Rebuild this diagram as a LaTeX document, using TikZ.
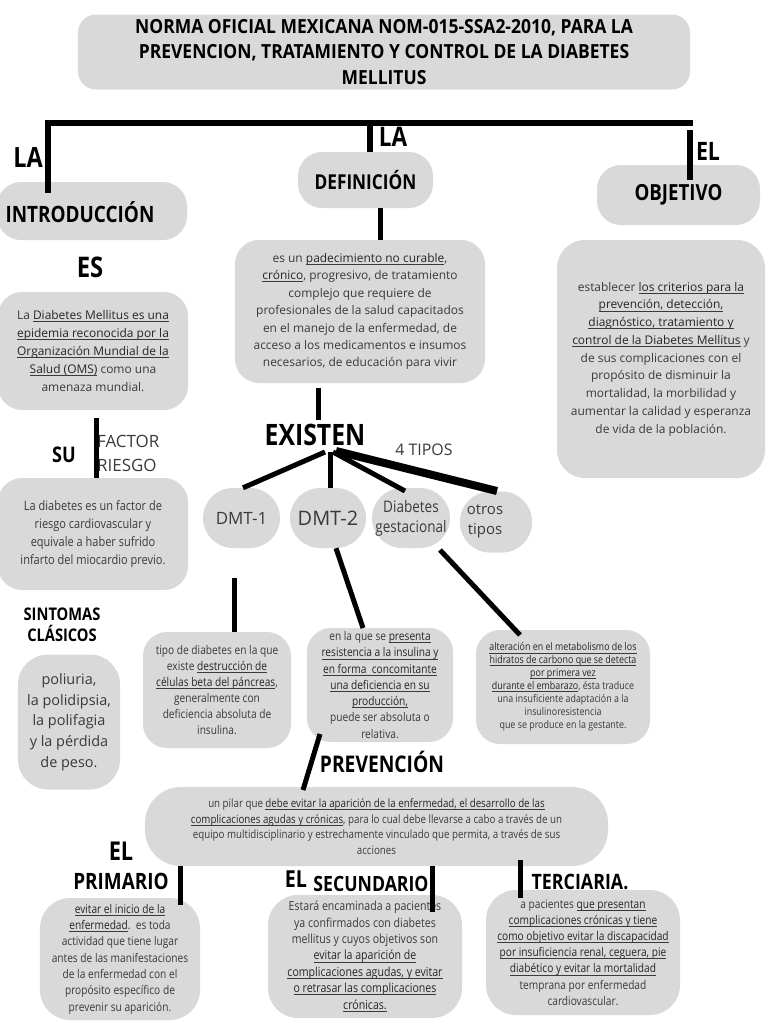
\documentclass[tikz,border=0pt]{standalone}
\usepackage{fontspec}
\usepackage{xcolor}
\usepackage{tikz}
\usetikzlibrary{positioning}
\setmainfont{Open Sans}
\newfontfamily\condfont[FakeStretch=0.85]{Open Sans}
\newfontfamily\headfont[FakeStretch=0.84]{Open Sans}
\newfontfamily\titlefont[FakeStretch=0.90]{Open Sans}
\definecolor{mgray}{HTML}{D9D9D9}
\definecolor{mtext}{HTML}{3A3A3A}
\newcommand{\fsz}[2]{\fontsize{#1}{#2}\selectfont}
\newsavebox{\ulnbox}
\newcommand{\uln}[1]{\sbox{\ulnbox}{\color{black!85}#1}\leavevmode\rlap{\usebox{\ulnbox}}\vrule height-1.6pt depth2.6pt width\wd\ulnbox\relax}

\begin{document}
\begin{tikzpicture}[x=1bp, y=-1bp,
  box/.style={fill=mgray, rounded corners=24bp, align=center, inner sep=0pt, text=mtext},
  head/.style={font=\headfont\bfseries\fsz{#1}{#1}, inner sep=0pt, text=black},
  head/.default=22,
  bar/.style={line width=6bp, black},
  link/.style={line width=5bp, black}]
\useasboundingbox[fill=white] (0,0) rectangle (768,1024);
% title and first level
\node[box, rounded corners=18bp, minimum width=612bp, minimum height=75bp, text=black,
  font=\titlefont\bfseries\fsz{19.5}{25.5}] (title) at (384,52)
  {NORMA OFICIAL MEXICANA NOM-015-SSA2-2010, PARA LA\\PREVENCION, TRATAMIENTO Y CONTROL DE LA DIABETES\\MELLITUS};
\node[box, minimum width=190bp, minimum height=58bp] (intro) at (92,211) {};
\node[head=22.6] (introlbl) at (80,212) {INTRODUCCIÓN};
\node[box, minimum width=135bp, minimum height=56bp, text=black, font=\headfont\bfseries\fsz{20.6}{20.6}] (defin) at (365.5,180) {DEFINICIÓN};
\node[box, minimum width=163bp, minimum height=60bp, text=black, font=\headfont\bfseries\fsz{22.3}{22.3}] (objet) at (678.5,195) {OBJETIVO};
\node[head=28] (laA) at (28,157) {LA};
\node[head=27] (laB) at (393,137) {LA};
\node[head=25.5] (elA) at (708,151) {EL};
\coordinate (barW) at (48,123);
\coordinate (barE) at (690,123);
\coordinate (barM) at (370,123);
\draw[bar] ([xshift=-3bp]barW) -- ([xshift=3bp]barE);
\draw[bar] (barW) -- (barW |- 0,193);
\draw[bar] (barM) -- (barM |- defin.north);
\draw[bar] ([yshift=-7bp]barE) -- (barE |- 0,180);
% texts of the first level
\node[head=28.5] (es) at (90,267) {ES};
\node[box, minimum width=190bp, minimum height=118bp, font=\fsz{12}{18}] (introtxt) at (93,351)
  {La \uln{Diabetes Mellitus es una}\\\uln{epidemia reconocida por la}\\\uln{Organización Mundial de la}\\\uln{Salud (OMS)} como una\\amenaza mundial.};
\node[box, minimum width=250bp, minimum height=143bp, font=\fsz{12}{17.5}] (deftxt) at (360,311.5)
  {es un \uln{padecimiento no curable},\\\uln{crónico}, progresivo, de tratamiento\\complejo que requiere de\\profesionales de la salud capacitados\\en el manejo de la enfermedad, de\\acceso a los medicamentos e insumos\\necesarios, de educación para vivir};
\node[box, rounded corners=28bp, minimum width=208bp, minimum height=238bp, font=\fsz{12}{17.8}] (objtxt) at (661,359)
  {establecer \uln{los criterios para la}\\\uln{prevención, detección,}\\\uln{diagnóstico, tratamiento y}\\\uln{control de la Diabetes Mellitus} y\\de sus complicaciones con el\\propósito de disminuir la\\mortalidad, la morbilidad y\\aumentar la calidad y esperanza\\de vida de la población.};
\draw[link] (defin.south -| 380,0) -- (deftxt.north -| 380,0);
% factor de riesgo
\node[head=21.6] (su) at (64,455) {SU};
\node[anchor=west, inner sep=0pt, font=\fsz{17}{24}, text=mtext, align=left] (factor) at (97,453) {FACTOR\\RIESGO};
\node[box, minimum width=190bp, minimum height=112bp, font=\condfont\fsz{13}{18.3}] (risk) at (93,534)
  {La diabetes es un factor de\\riesgo cardiovascular y\\equivale a haber sufrido\\infarto del miocardio previo.};
\draw[link] (96,418) -- (risk.north -| 96,0);
% tipos
\node[head=29.6] (existen) at (315,435) {EXISTEN};
\node[inner sep=0pt, font=\fsz{16}{16}, text=mtext] (tipos) at (424,450) {4 TIPOS};
\node[box, rounded corners=30bp, minimum width=77bp, minimum height=60bp, font=\fsz{17}{17}] (dmtA) at (241.5,518) {DMT-1};
\node[box, rounded corners=30bp, minimum width=76bp, minimum height=60bp, font=\fsz{20}{20}] (dmtB) at (328,518) {DMT-2};
\node[box, rounded corners=30bp, minimum width=78bp, minimum height=60bp, font=\condfont\fsz{16}{20}] (gest) at (411,518) {Diabetes\\gestacional};
\node[box, rounded corners=30bp, minimum width=72bp, minimum height=61bp] (otros) at (496,522) {};
\node[inner sep=0pt, align=center, font=\fsz{15}{20}, text=mtext] (otroslbl) at (485,521) {otros\\tipos};
\draw[link] (deftxt.south -| 318,0) ++(0,5) -- (318,420);
\draw[link] (325,452) -- (dmtA.north -| 243,0);
\draw[link] (330,452) -- (dmtB.north -| 330,0);
\draw[link] (333,452) -- (405,491);
\draw[line width=8bp] (336,451) -- (497,491);
% descripciones
\node[align=center, inner sep=0pt, font=\headfont\bfseries\fsz{17.5}{21}] (sint) at (62,625) {SINTOMAS\\CLÁSICOS};
\node[box, rounded corners=30bp, minimum width=102bp, minimum height=135bp, font=\fsz{14.5}{20.8}] (sinttxt) at (69,722)
  {poliuria,\\la polidipsia,\\la polifagia\\y la pérdida\\de peso.};
\node[box, minimum width=148bp, minimum height=116bp, font=\condfont\fsz{12}{16}] (dmtAtxt) at (217,690)
  {tipo de diabetes en la que\\existe \uln{destrucción de}\\\uln{células beta del páncreas},\\generalmente con\\deficiencia absoluta de\\insulina.};
\node[box, minimum width=146bp, minimum height=114bp, font=\condfont\fsz{12}{16.3}] (dmtBtxt) at (380,685)
  {en la que se \uln{presenta}\\\uln{resistencia a la insulina y}\\\uln{en forma\ \ concomitante}\\\uln{una deficiencia en su}\\\uln{producción,}\\puede ser absoluta o\\relativa.};
\node[box, minimum width=174bp, minimum height=114bp, font=\condfont\fsz{10.5}{13}] (gesttxt) at (563,687)
  {\uln{alteración en el metabolismo de los}\\\uln{hidratos de carbono que se detecta}\\\uln{por primera vez}\\\uln{durante el embarazo}, ésta traduce\\una insuficiente adaptación a la\\insulinoresistencia\\que se produce en la gestante.};
\draw[link] (234,578) -- (dmtAtxt.north -| 234,0);
\draw[link] (dmtB.south -| 336,0) -- (363,628);
\draw[link] (440,550) -- (520,635);
% prevencion
\node[head=23] (prev) at (382,762) {PREVENCIÓN};
\node[box, rounded corners=36bp, minimum width=463bp, minimum height=79bp, font=\condfont\fsz{11.5}{15.7}] (pilar) at (376.5,826.5)
  {un pilar que \uln{debe evitar la aparición de la enfermedad, el desarrollo de las}\\\uln{complicaciones agudas y crónicas}, para lo cual debe llevarse a cabo a través de un\\equipo multidisciplinario y estrechamente vinculado que permita, a través de sus\\acciones};
\draw[link] (320,734) -- (303,790);
\node[head=26] (elB) at (121,851) {EL};
\node[head=22.6] (prim) at (121,881) {PRIMARIO};
\node[head=23.5] (elC) at (296,879) {EL};
\node[head=21.1] (secu) at (371,884) {SECUNDARIO};
\node[head=21.3] (terc) at (580,882) {TERCIARIA.};
\node[box, rounded corners=30bp, minimum width=160bp, minimum height=122bp, font=\condfont\fsz{12}{16.4}] (primtxt) at (120,959)
  {\uln{evitar el inicio de la}\\\uln{enfermedad}.\ \ es toda\\actividad que tiene lugar\\antes de las manifestaciones\\de la enfermedad con el\\propósito específico de\\prevenir su aparición.};
\node[box, rounded corners=30bp, minimum width=194bp, minimum height=123bp, font=\condfont\fsz{12.5}{16.4}] (secutxt) at (365,956.5)
  {Estará encaminada a pacientes\\ya confirmados con diabetes\\mellitus y cuyos objetivos son\\\uln{evitar la aparición de}\\\uln{complicaciones agudas, y evitar}\\\uln{o retrasar las complicaciones}\\\uln{crónicas.}};
\node[box, rounded corners=30bp, minimum width=194bp, minimum height=125bp, font=\condfont\fsz{12}{16.2}] (terctxt) at (583,952.5)
  {a pacientes \uln{que presentan}\\\uln{complicaciones crónicas y tiene}\\\uln{como objetivo evitar la discapacidad}\\\uln{por insuficiencia renal, ceguera, pie}\\\uln{diabético y evitar la mortalidad}\\temprana por enfermedad\\cardiovascular.};
\draw[link] (pilar.south -| 180,0) -- (180,905);
\draw[link] (432,866) -- (432,912);
\draw[link] (520,860) -- (520,898);
\end{tikzpicture}
\end{document}
